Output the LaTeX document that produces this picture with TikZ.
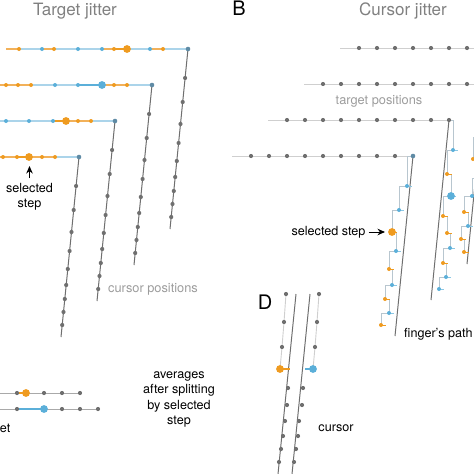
\documentclass[tikz,border=0pt]{standalone}
\usepackage{fontspec}
\setmainfont{TeX Gyre Heros}
\usetikzlibrary{arrows.meta}
\definecolor{jorange}{HTML}{EF9B20}
\definecolor{jblue}{HTML}{5BAFD9}
\definecolor{lblue}{HTML}{ABD4EA}
\definecolor{lorange}{HTML}{F2B15A}
\definecolor{dgray}{HTML}{6F6F6F}
\definecolor{lgray}{HTML}{CFCFCF}
\definecolor{mgray}{HTML}{A9A9A9}
\definecolor{cgray}{HTML}{5F8BA5}
\definecolor{tgray}{HTML}{808080}
\definecolor{fgray}{HTML}{9C9C9C}
\definecolor{sgray}{HTML}{B8C6CF}
\begin{document}
\begin{tikzpicture}
[x=1pt, y=-1pt,
every node/.style={inner sep=0pt},
title/.style={font=\fontsize{17}{20}\selectfont, text=tgray},
panel/.style={font=\fontsize{20}{24}\selectfont},
note/.style={font=\fontsize{12.6}{15.4}\selectfont, align=center},
faint/.style={font=\fontsize{12.8}{15}\selectfont, text=fgray},
pointer/.style={-{Stealth[length=7.5pt,width=6.5pt]}, line width=0.9pt},
seg o/.style={lorange, line width=1.1pt},
seg b/.style={lblue, line width=1.1pt},
seg c/.style={lblue, line width=1.1pt},
seg O/.style={jorange, line width=2.5pt},
seg B/.style={jblue, line width=2.5pt},
dot o/.style={fill=jorange, radius=2pt},
dot b/.style={fill=jblue, radius=2pt},
dot O/.style={fill=jorange, radius=3.9pt},
dot B/.style={fill=jblue, radius=3.9pt},
dot g/.style={fill=dgray, radius=2.1pt},
dot c/.style={fill=cgray, radius=2.3pt},
track/.style={dgray, line width=1pt},
target/.style={lgray, line width=0.9pt},
stair/.style={sgray, line width=0.6pt},
tick o/.style={jorange, line width=0.9pt},
tick O/.style={jorange, line width=0.9pt},
tick b/.style={jblue!70, line width=0.9pt},
tick B/.style={jblue!70, line width=0.9pt},
]
\useasboundingbox (0,0) rectangle (474,474);
\clip (0,0) rectangle (474,474);

\foreach \y/\cx/\sx/\pts in {
  49/188/6/{19/o,42/b,54/o,78/b,102/b,114/o,127/O,150/b,163/o,188/c},
  85/152/-5/{6/o,18/o,31/o,55/b,78/b,102/B,114/o,127/o,152/c},
  121/115/-5/{6/b,29/b,53/b,66/O,78/o,91/o,115/c},
  157/79/-5/{3/o,17/o,29/O,42/o,55/o,79/c}}{
  \draw[track] (\cx,\y) -- ++(-18,180);
  \foreach \d in {29,53,75,94,112,128,142,155,168}
    \fill[dot g] (\cx-0.1*\d,\y+\d) circle[];
  \foreach \x/\c [remember=\x as \px (initially \sx)] in \pts
    \draw[seg \c] (\px,\y) -- (\x,\y);
  \foreach \x/\c in \pts
    \fill[dot \c] (\x,\y) circle[];
}

\node[title] (titleA) at (75,11.5) {Target jitter};
\node[note] (selA) at (29.5,197) {selected\\step};
\coordinate (selAtip) at (29.5,166);
\draw[pointer, shorten <=5pt] (selA.north) -- (selAtip);
\node[faint] (curpos) at (153,289.5) {cursor positions};

\draw[mgray, line width=0.9pt] (-5,393) -- (80,393);
\draw[seg O] (17,393) -- (26,393);
\foreach \x in {17,44,62,80} \fill[dot g] (\x,393) circle[];
\fill[dot O] (26,393) circle[];
\draw[mgray, line width=0.9pt] (-5,409) -- (98,409);
\draw[seg B] (17,409) -- (44,409);
\foreach \x in {17,62,80,98} \fill[dot g] (\x,409) circle[];
\fill[dot B] (44,409) circle[];
\node[note, anchor=east] (tgt) at (10.5,428) {et};
\node[note] (avg) at (179,399.5) {averages\\after splitting\\by selected\\step};

\node[panel] (labB) at (239,8.5) {B};
\node[title] (titleB) at (403,11.5) {Cursor jitter};
\foreach \y/\cx in {48/521, 84/485, 120/449, 156/413}{
  \draw[target] (\cx-181,\y) -- (\cx,\y);
  \foreach \k in {1,...,9}
    \fill[dot g] (\cx-18*\k,\y) circle[];
  \draw[track] (\cx,\y) -- ++(-18,180);
}
\draw[tick o] (449,120) -- ++(5,0);
\foreach \cx/\y/\pts in {
  413/156/{407/186/b,399/210/b,392/232/O,396/251/b,389/269/o,392/285/b,385/299/o,389/313/b,381/325/o},
  449/120/{453/150/b,447/174/o,451/196/B,443/216/o,447/233/o,450/248/b,443/263/o,446/277/b,439/289/b},
  485/84/{481/113/b,479/137/b,473/159/o,477/178/b,472/196/b,464/212/o,468/226/b,461/239/o,464/252/o}}{
  \foreach \x/\yy/\c [remember=\x as \px (initially \cx), remember=\yy as \py (initially \y)] in \pts
    \draw[stair] (\px,\py) -| (\x,\yy);
  \foreach \x/\yy/\c in \pts{
    \draw[tick \c] (\x,\yy) -- ++(5,0);
    \fill[dot \c] (\x,\yy) circle[];
  }
}
\fill[dot g] (449,120) circle[];
\fill[dot c] (413,156) circle[];
\node[faint] (tarpos) at (379,101.5) {target positions};
\node[note] (selB) at (328.5,232) {selected step};
\coordinate (selBtip) at (385,232);
\draw[pointer, shorten <=3pt] (selB.east) -- (selBtip);
\node[note, anchor=west] (finger) at (404,334) {finger's path};

\node[panel] (labD) at (265,302) {D};
\draw[target] (286,294) -- (284,322) -- (282,347) -- (280,369);
\draw[target] (319,294) -- (317,322) -- (315,347) -- (313,369);
\draw[track] (296,294) -- (278,474);
\draw[track] (310,294) -- (292,474);
\draw[seg O] (280,369) -- (290,369);
\draw[seg B] (313,369) -- (305,369);
\foreach \x/\y in {286/294,284/322,282/347,319/294,317/322,315/347,
  288/388,287/405,285/421,283/436,281/449,279/462,
  303/388,302/405,299/421,298/436,296/449,294/462}
  \fill[dot g] (\x,\y) circle[];
\fill[dot O] (280,369) circle[];
\fill[dot B] (313,369) circle[];
\node[note] (cursor) at (336,428) {cursor};
\end{tikzpicture}
\end{document}
